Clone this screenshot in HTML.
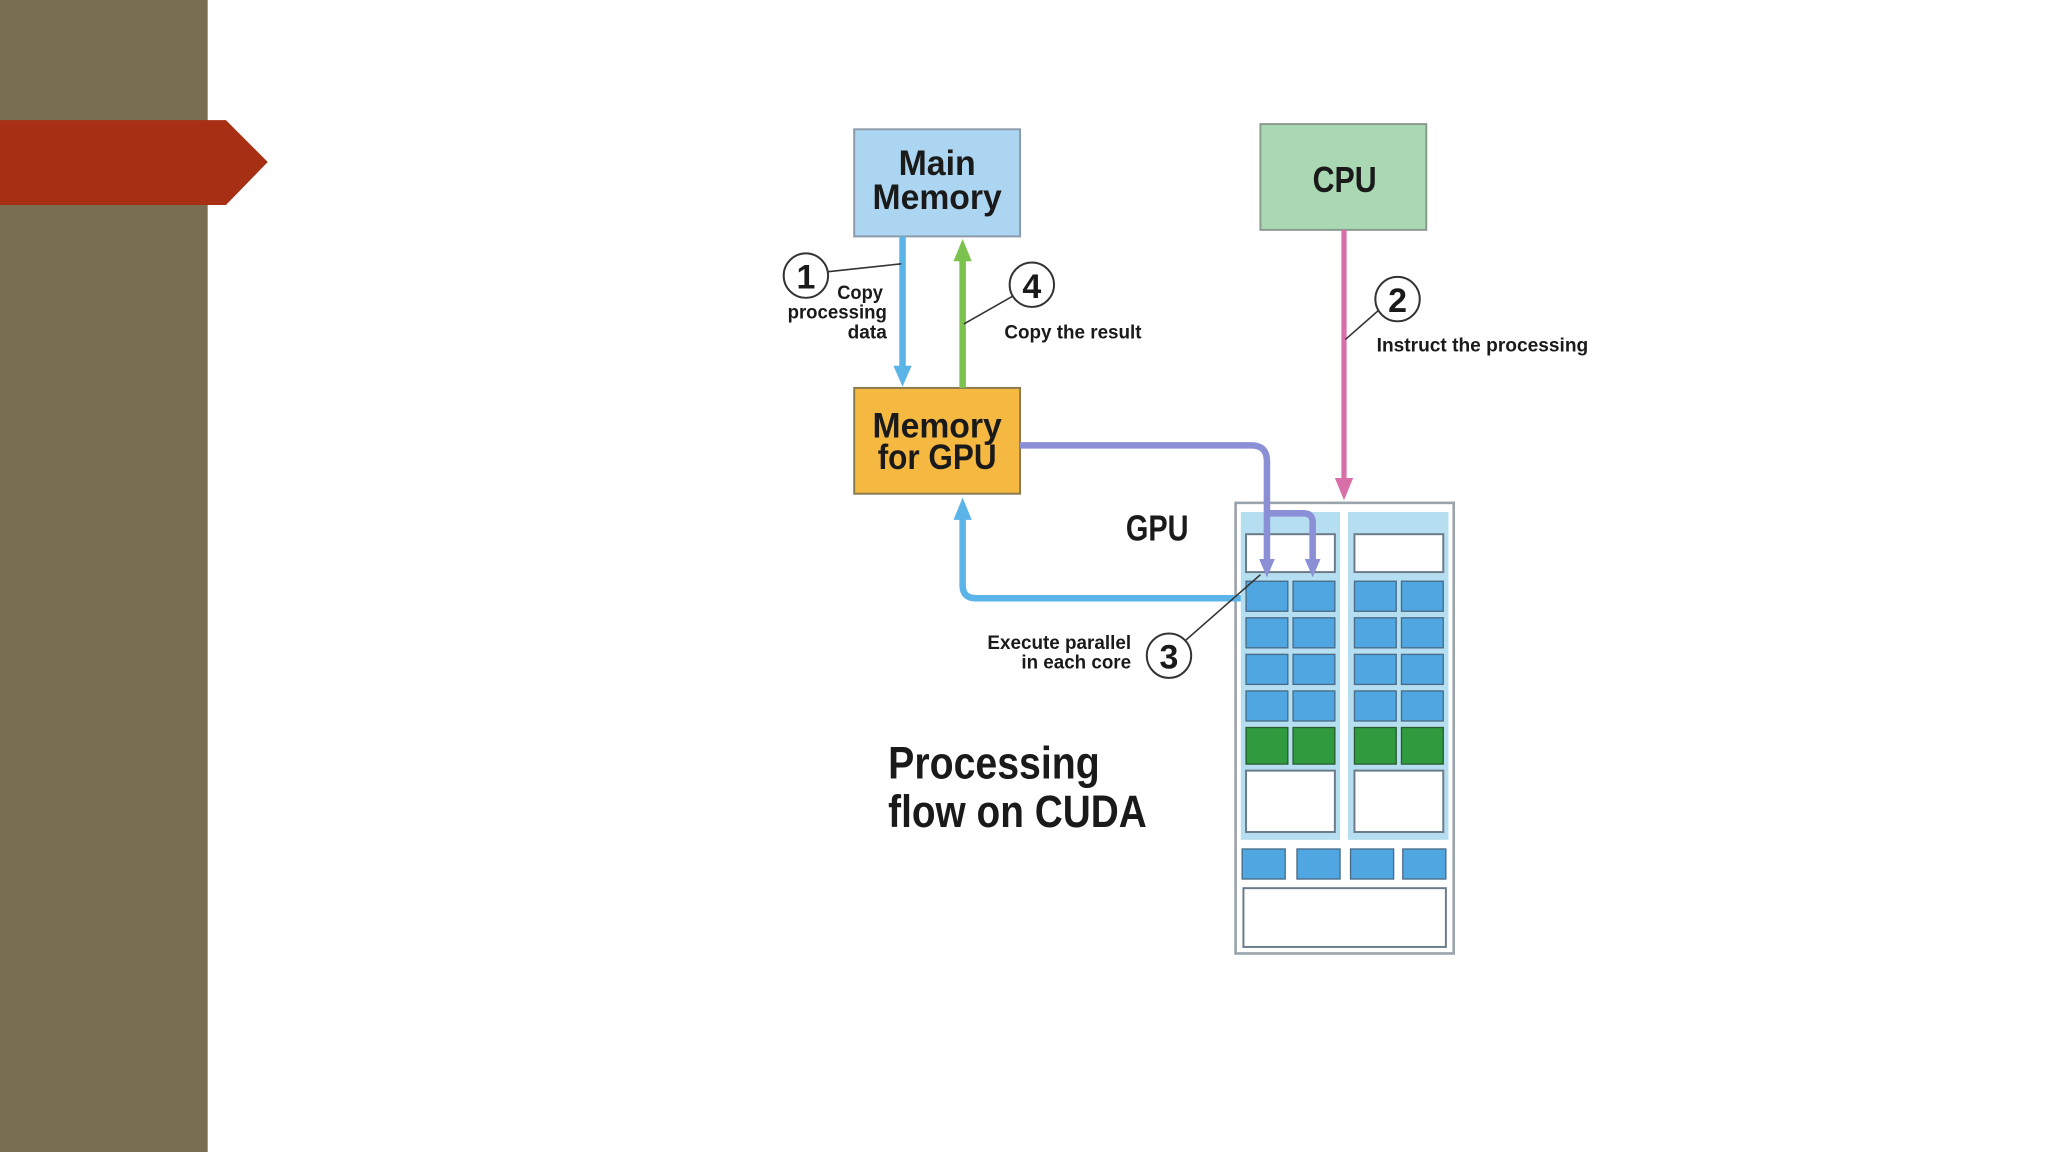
<!DOCTYPE html>
<html><head><meta charset="utf-8"><style>
html,body{margin:0;padding:0;background:#fff;}
svg{display:block;}
text{font-family:"Liberation Sans Narrow","Liberation Sans",sans-serif;font-weight:bold;fill:#1a1a1a;}
</style></head><body>
<svg width="2048" height="1152" viewBox="0 0 1568 882" xmlns="http://www.w3.org/2000/svg">
<rect x="0" y="0" width="1568" height="882" fill="#fff"/>
<rect x="0" y="0" width="159" height="882" fill="#7a6e52"/>
<polygon points="0,92 173,92 205,124 173,157 0,157" fill="#a62f14"/>

<rect x="654" y="99" width="127" height="82" fill="#acd5f1" stroke="#8a9aa8" stroke-width="1.5"/>
<text x="688" y="134" font-size="27" textLength="59" lengthAdjust="spacingAndGlyphs">Main</text>
<text x="668" y="160" font-size="27" textLength="99" lengthAdjust="spacingAndGlyphs">Memory</text>
<rect x="965" y="95" width="127" height="81" fill="#a9d8b2" stroke="#8a9a8e" stroke-width="1.5"/>
<text x="1005" y="147" font-size="28" textLength="49" lengthAdjust="spacingAndGlyphs">CPU</text>
<rect x="654" y="297" width="127" height="81" fill="#f5b942" stroke="#8a7a50" stroke-width="1.5"/>
<text x="668" y="335" font-size="27" textLength="99" lengthAdjust="spacingAndGlyphs">Memory</text>
<text x="672" y="359" font-size="27" textLength="91" lengthAdjust="spacingAndGlyphs">for GPU</text>

<line x1="691" y1="181" x2="691" y2="282" stroke="#5bb4e8" stroke-width="5"/>
<polygon points="684,280 698,280 691,296" fill="#5bb4e8"/>
<line x1="737" y1="297" x2="737" y2="198" stroke="#7cc24e" stroke-width="5"/>
<polygon points="730,200 744,200 737,183" fill="#7cc24e"/>

<circle cx="617" cy="211" r="17" fill="#fff" stroke="#333" stroke-width="1.5"/>
<text x="617" y="221" font-size="26" text-anchor="middle">1</text>
<line x1="634" y1="208" x2="690" y2="202" stroke="#333" stroke-width="1.2"/>
<text x="641" y="229" font-size="15" textLength="35" lengthAdjust="spacingAndGlyphs">Copy</text>
<text x="603" y="244" font-size="15" textLength="76" lengthAdjust="spacingAndGlyphs">processing</text>
<text x="649" y="259" font-size="15" textLength="30" lengthAdjust="spacingAndGlyphs">data</text>
<circle cx="790" cy="218" r="17" fill="#fff" stroke="#333" stroke-width="1.5"/>
<text x="790" y="228" font-size="26" text-anchor="middle">4</text>
<line x1="775" y1="227" x2="738" y2="248" stroke="#333" stroke-width="1.2"/>
<text x="769" y="259" font-size="15" textLength="105" lengthAdjust="spacingAndGlyphs">Copy the result</text>

<line x1="1029" y1="176" x2="1029" y2="368" stroke="#d96fa8" stroke-width="4"/>
<polygon points="1022,366 1036,366 1029,383" fill="#d96fa8"/>
<circle cx="1070" cy="229" r="17" fill="#fff" stroke="#333" stroke-width="1.5"/>
<text x="1070" y="239" font-size="26" text-anchor="middle">2</text>
<line x1="1055" y1="238" x2="1030" y2="260" stroke="#333" stroke-width="1.2"/>
<text x="1054" y="269" font-size="15" textLength="162" lengthAdjust="spacingAndGlyphs">Instruct the processing</text>

<rect x="946" y="385" width="167" height="345" fill="#fff" stroke="#9aa4ad" stroke-width="2"/>
<rect x="950" y="392" width="76" height="251" fill="#b5dff0"/>
<rect x="1032" y="392" width="77" height="251" fill="#b5dff0"/>
<g fill="#fff" stroke="#6a7a88" stroke-width="1.5">
<rect x="954" y="409" width="68" height="29"/>
<rect x="1037" y="409" width="68" height="29"/>
<rect x="954" y="590" width="68" height="47"/>
<rect x="1037" y="590" width="68" height="47"/>
<rect x="952" y="680" width="155" height="45"/>
</g>
<g fill="#4fa6e0" stroke="#4a6a85" stroke-width="1">
<rect x="954" y="445" width="32" height="23"/><rect x="990" y="445" width="32" height="23"/><rect x="1037" y="445" width="32" height="23"/><rect x="1073" y="445" width="32" height="23"/>
<rect x="954" y="473" width="32" height="23"/><rect x="990" y="473" width="32" height="23"/><rect x="1037" y="473" width="32" height="23"/><rect x="1073" y="473" width="32" height="23"/>
<rect x="954" y="501" width="32" height="23"/><rect x="990" y="501" width="32" height="23"/><rect x="1037" y="501" width="32" height="23"/><rect x="1073" y="501" width="32" height="23"/>
<rect x="954" y="529" width="32" height="23"/><rect x="990" y="529" width="32" height="23"/><rect x="1037" y="529" width="32" height="23"/><rect x="1073" y="529" width="32" height="23"/>
<rect x="951" y="650" width="33" height="23"/><rect x="993" y="650" width="33" height="23"/><rect x="1034" y="650" width="33" height="23"/><rect x="1074" y="650" width="33" height="23"/>
</g>
<g fill="#2f9a3e" stroke="#2a5a30" stroke-width="1">
<rect x="954" y="557" width="32" height="28"/><rect x="990" y="557" width="32" height="28"/><rect x="1037" y="557" width="32" height="28"/><rect x="1073" y="557" width="32" height="28"/>
</g>

<path d="M781,341 H958 Q970,341 970,353 V428" fill="none" stroke="#8a8fd6" stroke-width="5"/>
<path d="M970,393 H998 Q1005,393 1005,400 V428" fill="none" stroke="#8a8fd6" stroke-width="5"/>
<polygon points="964,428 976,428 970,442" fill="#8a8fd6"/>
<polygon points="999,428 1011,428 1005,442" fill="#8a8fd6"/>

<path d="M950,458 H747 Q737,458 737,448 V396" fill="none" stroke="#5bb4e8" stroke-width="5"/>
<polygon points="730,398 744,398 737,381" fill="#5bb4e8"/>

<text x="862" y="414" font-size="28" textLength="48" lengthAdjust="spacingAndGlyphs">GPU</text>

<circle cx="895" cy="502" r="17" fill="#fff" stroke="#333" stroke-width="1.5"/>
<text x="895" y="512" font-size="26" text-anchor="middle">3</text>
<line x1="908" y1="490" x2="965" y2="440" stroke="#333" stroke-width="1.2"/>
<text x="756" y="497" font-size="15" textLength="110" lengthAdjust="spacingAndGlyphs">Execute parallel</text>
<text x="782" y="512" font-size="15" textLength="84" lengthAdjust="spacingAndGlyphs">in each core</text>

<text x="680" y="596" font-size="35" textLength="162" lengthAdjust="spacingAndGlyphs">Processing</text>
<text x="680" y="633" font-size="35" textLength="198" lengthAdjust="spacingAndGlyphs">flow on CUDA</text>
</svg>
</body></html>
